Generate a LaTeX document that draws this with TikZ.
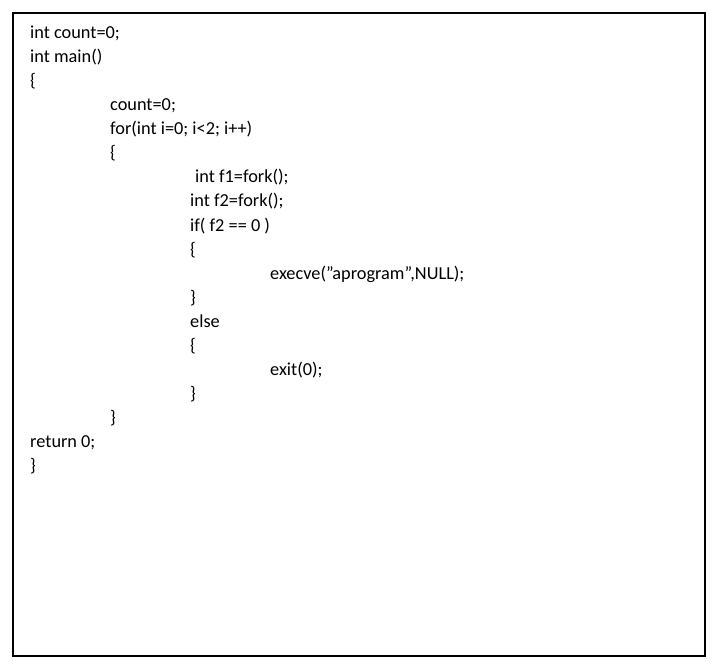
\documentclass[tikz,border=0pt]{standalone}
\usepackage{fontspec}
\setmainfont{Carlito}
\newcommand{\dq}{{\char34}}
\begin{document}
\begin{tikzpicture}[x=1pt,y=-1pt,
  code/.style={anchor=base west,inner sep=0pt,font=\fontsize{18.3}{21}\selectfont}]
\useasboundingbox (0,0) rectangle (719,668);
\draw[line width=1.3pt] (13,13) rectangle (705,656);
\node[code] (l1) at (30,39) {int count=0;};
\node[code] (l2) at (30,63) {int main()};
\node[code] (l3) at (30,87) {\{};
\node[code] (l4) at (110,111) {count=0;};
\node[code] (l5) at (110,135) {for(int i=0; i<2; i++)};
\node[code] (l6) at (110,159) {\{};
\node[code] (l7) at (195,183) {int f1=fork();};
\node[code] (l8) at (190,207) {int f2=fork();};
\node[code] (l9) at (190,231) {if( f2 == 0 )};
\node[code] (l10) at (190,255) {\{};
\node[code] (l11) at (270,279) {execve(\dq aprogram\dq,NULL);};
\node[code] (l12) at (190,303) {\}};
\node[code] (l13) at (190,327) {else};
\node[code] (l14) at (190,351) {\{};
\node[code] (l15) at (270,375) {exit(0);};
\node[code] (l16) at (190,399) {\}};
\node[code] (l17) at (110,423) {\}};
\node[code] (l18) at (30,447) {return 0;};
\node[code] (l19) at (30,471) {\}};
\end{tikzpicture}
\end{document}
